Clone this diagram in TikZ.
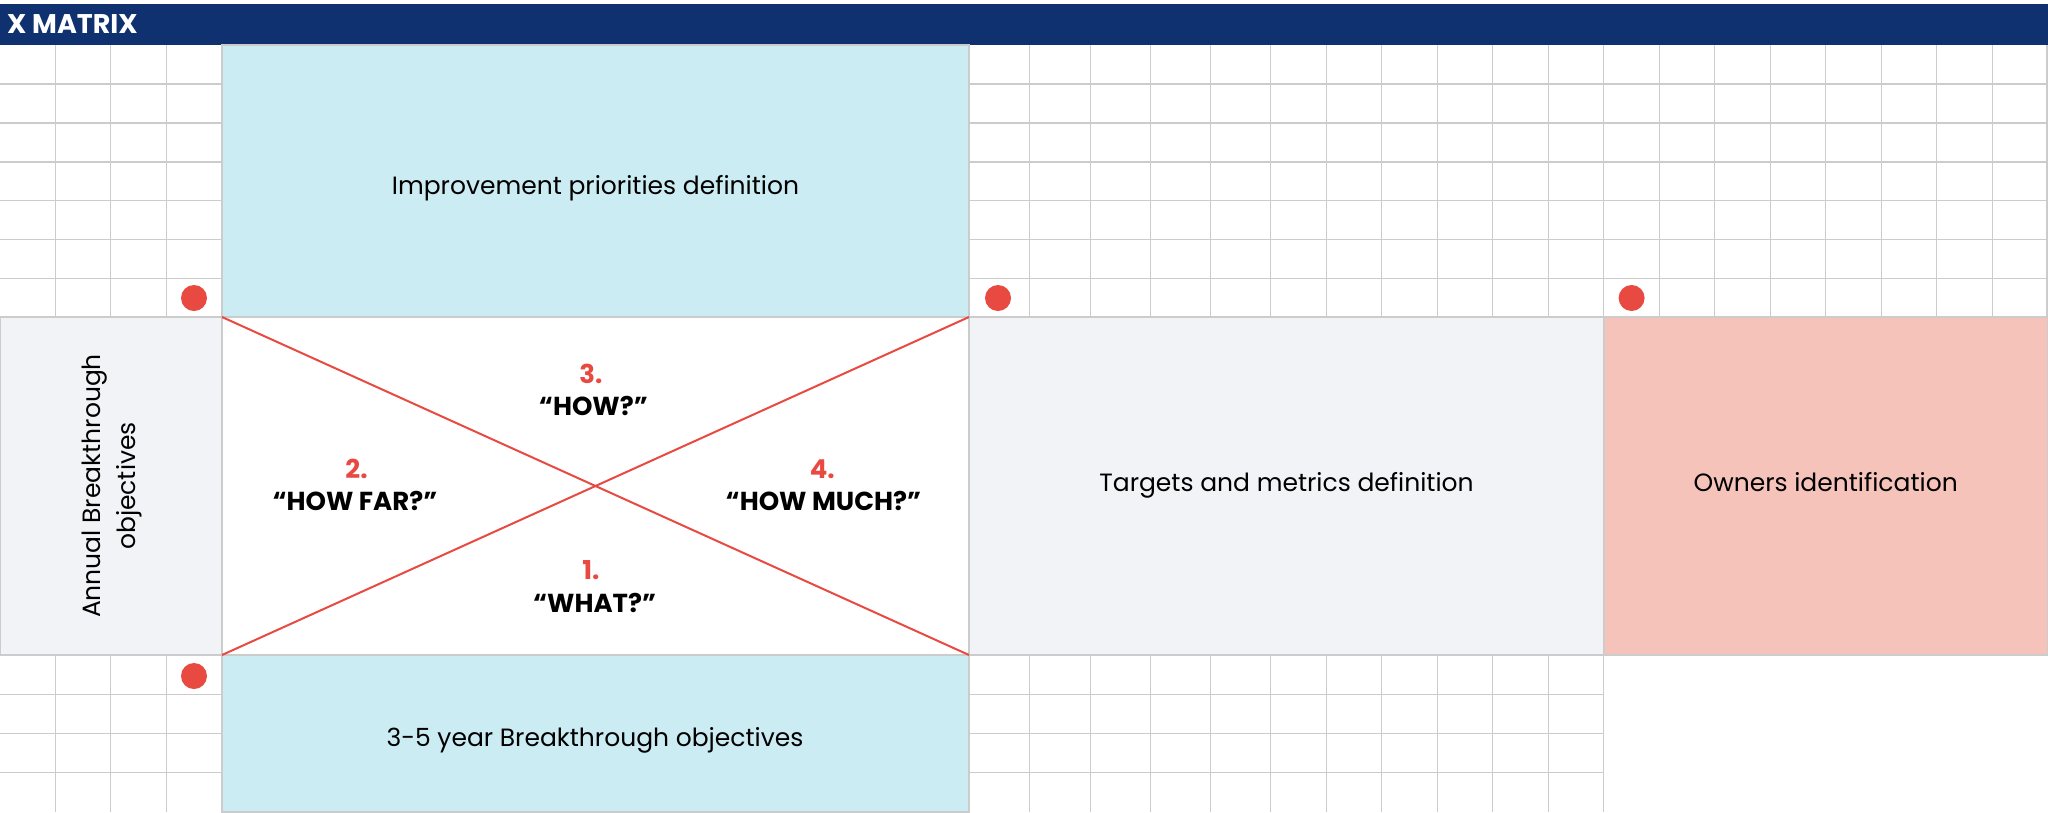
\documentclass[tikz,border=0pt]{standalone}
\usepackage{fontspec}
\setmainfont{Poppins}
\definecolor{navy}{HTML}{10316F}
\definecolor{prioblue}{HTML}{CBECF2}
\definecolor{panelgray}{HTML}{F2F3F6}
\definecolor{ownerpink}{HTML}{F5C3BA}
\definecolor{xred}{HTML}{E84A42}
\definecolor{gridgray}{HTML}{CCCCCC}
\tikzset{
  gridline/.style={draw=gridgray, line width=1.2pt},
  panel/.style={draw=gridgray, line width=1.2pt, inner sep=0pt, outer sep=0pt, anchor=north west},
  lbl/.style={font=\fontsize{25}{35}\selectfont, anchor=base, inner sep=0pt},
  num/.style={font=\fontsize{26}{30}\selectfont\bfseries, text=xred, anchor=base, inner sep=0pt},
  ask/.style={font=\fontsize{26}{30}\selectfont\bfseries, anchor=base, inner sep=0pt},
  marker/.style={circle, fill=xred, minimum size=26pt, inner sep=0pt},
}
\begin{document}
\begin{tikzpicture}[x=1pt,y=-1pt]
\useasboundingbox[fill=white] (0,0) rectangle (2048,812);
% grid
\foreach \x in {55.4,110.8,166.2} \draw[gridline] (\x,45) -- (\x,317);
\foreach \y in {84,123,162,200.7,239.3,278.3} \draw[gridline] (0,\y) -- (222,\y);
\foreach \x in {1029.6,1090.4,1150.4,1210.5,1270.7,1326.4,1381.8,1437.5,1492.6,1548.1,1603.5,1659.4,1714.3,1770.2,1825.4,1881.3,1936.6,1992.5,2047} \draw[gridline] (\x,45) -- (\x,317);
\foreach \y in {84,123,162,200.7,239.3,278.3} \draw[gridline] (969,\y) -- (2048,\y);
\foreach \x in {55.4,110.8,166.2} \draw[gridline] (\x,655) -- (\x,812);
\foreach \y in {694.2,733.7,772.8} \draw[gridline] (0,\y) -- (222,\y);
\foreach \x in {1029.6,1090.4,1150.4,1210.5,1270.7,1326.4,1381.8,1437.5,1492.6,1548.1,1603.5} \draw[gridline] (\x,655) -- (\x,812);
\foreach \y in {694.2,733.7,772.8} \draw[gridline] (969,\y) -- (1603.5,\y);
% header
\node[anchor=north west, fill=navy, minimum width=2048pt, minimum height=41pt, inner sep=0pt] (header) at (0,4) {};
\node[anchor=base west, inner sep=0pt, text=white, font=\fontsize{27}{30}\selectfont\bfseries] (title) at (7,33.3) {X MATRIX};
% panels
\node[panel, fill=prioblue, minimum width=747pt, minimum height=272pt] (prio) at (222,45) {};
\node[panel, fill=panelgray, minimum width=222pt, minimum height=338pt] (annual) at (0,317) {};
\node[panel, fill=white, minimum width=747pt, minimum height=338pt] (xbox) at (222,317) {};
\node[panel, fill=panelgray, minimum width=635pt, minimum height=338pt] (targets) at (969,317) {};
\node[panel, fill=ownerpink, minimum width=444pt, minimum height=338pt] (owners) at (1604,317) {};
\node[panel, fill=prioblue, minimum width=747pt, minimum height=157pt] (longterm) at (222,655) {};
% the X
\draw[xred, line width=2pt] (xbox.north west) -- (xbox.south east);
\draw[xred, line width=2pt] (xbox.south west) -- (xbox.north east);
% texts
\node[lbl] (priotext) at (595.5,194) {Improvement priorities definition};
\node[lbl] (targettext) at (1286.5,491) {Targets and metrics definition};
\node[lbl] (ownertext) at (1825.7,491) {Owners identification};
\node[lbl] (longtext) at (595,746) {3-5 year Breakthrough objectives};
\node[lbl, anchor=center, rotate=90, align=center] (annualtext) at (112,486) {Annual Breakthrough\\objectives};
\node[num] (n3) at (591,383.3) {3.};
\node[ask] (how) at (593.4,415.7) {“HOW?”};
\node[num] (n2) at (356.5,478.3) {2.};
\node[ask] (howfar) at (355,510.7) {“HOW FAR?”};
\node[num] (n4) at (822.3,478.3) {4.};
\node[ask] (howmuch) at (823.4,510.7) {“HOW MUCH?”};
\node[num] (n1) at (591,579.3) {1.};
\node[ask] (what) at (594.6,612.3) {“WHAT?”};
% markers
\node[marker] (dot1) at (194,298) {};
\node[marker] (dot2) at (194,676) {};
\node[marker] (dot3) at (998,298) {};
\node[marker] (dot4) at (1631.6,298) {};
\end{tikzpicture}
\end{document}
